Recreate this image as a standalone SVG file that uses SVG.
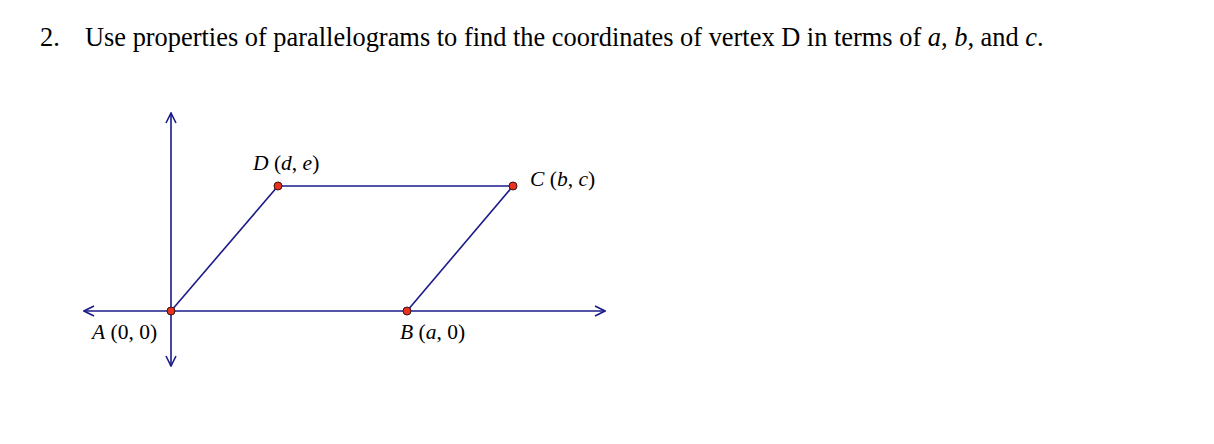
<svg xmlns="http://www.w3.org/2000/svg" width="1214" height="444" viewBox="0 0 1214 444">
<defs>
<style>
.t{font-family:"Liberation Serif","Times New Roman",serif;fill:#000}
.title{font-size:26.4px}
.lbl{font-size:21.5px}
.ax{stroke:#1a1a8a;stroke-width:1.6;fill:none}
.pt{fill:#e8321e;stroke:#3a1010;stroke-width:1}
</style>
<marker id="ah" viewBox="0 0 12 12" refX="11" refY="6" markerWidth="12" markerHeight="12" markerUnits="userSpaceOnUse" orient="auto">
<path d="M1,1 L11,6 L1,11" fill="none" stroke="#1a1a8a" stroke-width="1.6"/>
</marker>
</defs>
<rect width="1214" height="444" fill="#fff"/>
<text class="t title" x="40" y="46">2.</text>
<text class="t title" x="85" y="46">Use properties of parallelograms to find the coordinates of vertex D in terms of <tspan font-style="italic">a</tspan>, <tspan font-style="italic">b</tspan>, and <tspan font-style="italic">c</tspan>.</text>
<g id="connectors">
<line class="ax" x1="171" y1="311" x2="171" y2="113" marker-end="url(#ah)"/>
<line class="ax" x1="171" y1="311" x2="171" y2="366" marker-end="url(#ah)"/>
<line class="ax" x1="171" y1="311" x2="84" y2="311" marker-end="url(#ah)"/>
<line class="ax" x1="171" y1="311" x2="605" y2="311" marker-end="url(#ah)"/>
<line class="ax" x1="171" y1="311" x2="278" y2="186"/>
<line class="ax" x1="278" y1="186" x2="513" y2="186"/>
<line class="ax" x1="513" y1="186" x2="407" y2="311"/>
</g>
<g id="A"><circle class="pt" cx="171" cy="311" r="4"/><text class="t lbl" x="92" y="339"><tspan font-style="italic">A</tspan> (0, 0)</text></g>
<g id="B"><circle class="pt" cx="407" cy="311" r="4"/><text class="t lbl" x="400" y="339"><tspan font-style="italic">B</tspan> (<tspan font-style="italic">a</tspan>, 0)</text></g>
<g id="C"><circle class="pt" cx="513" cy="186" r="4"/><text class="t lbl" x="530" y="186"><tspan font-style="italic">C</tspan> (<tspan font-style="italic">b</tspan>, <tspan font-style="italic">c</tspan>)</text></g>
<g id="D"><circle class="pt" cx="278" cy="186" r="4"/><text class="t lbl" x="253" y="170"><tspan font-style="italic">D</tspan> (<tspan font-style="italic">d</tspan>, <tspan font-style="italic">e</tspan>)</text></g>
</svg>
